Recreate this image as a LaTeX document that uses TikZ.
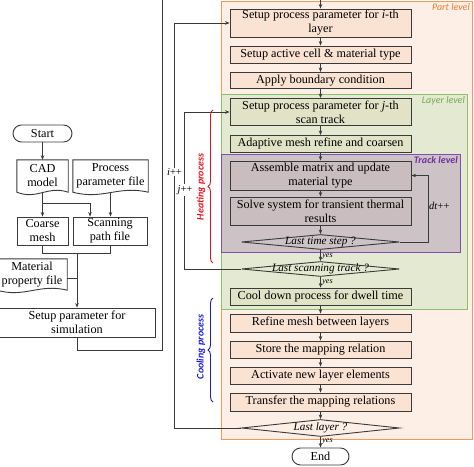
\documentclass[tikz,border=0pt]{standalone}
\usepackage{fontspec}
\setmainfont{Liberation Serif}
\newfontfamily\carlito{Carlito}
\usetikzlibrary{arrows.meta,calc,shapes.geometric,decorations.pathreplacing}
\definecolor{lineC}{HTML}{3A3A3A}
\definecolor{orBorder}{HTML}{F29A5C}
\definecolor{orBg}{HTML}{FDEFE5}
\definecolor{orBox}{HTML}{FBE3D4}
\definecolor{orText}{HTML}{ED7D31}
\definecolor{grBorder}{HTML}{8CC16A}
\definecolor{grBg}{HTML}{E4E9D2}
\definecolor{grBox}{HTML}{E1E3C6}
\definecolor{grText}{HTML}{70AD47}
\definecolor{puBorder}{HTML}{7F4FB0}
\definecolor{puBg}{HTML}{CDC3C7}
\definecolor{puBox}{HTML}{C9BDC0}
\definecolor{puText}{HTML}{7030A0}
\definecolor{heatRed}{HTML}{E8101A}
\definecolor{coolBlue}{HTML}{1A1AD0}
\newcommand\mydocshape[1]{%
  \draw[lineC, line width=0.9pt, fill=white]
    (#1.south east) -- (#1.north east) -- (#1.north west) -- (#1.south west)
    .. controls ($(#1.south west)!0.4!(#1.south east)+(0,8)$)
    and ($(#1.south east)!0.4!(#1.south west)+(0,-7)$) .. (#1.south east) -- cycle;}
\begin{document}
\begin{tikzpicture}[x=1pt,y=-1pt,
  txt/.style={font=\fontsize{12.2}{14}\selectfont, align=center, inner sep=0.5pt},
  bx/.style={txt, draw=lineC, line width=0.9pt, minimum width=181pt},
  pbox/.style={bx, fill=orBox},
  lbox/.style={bx, fill=grBox},
  tbox/.style={bx, fill=puBox},
  wbox/.style={txt, draw=lineC, line width=0.9pt, fill=white},
  docnode/.style={txt, draw=none},
  term/.style={txt, draw=lineC, line width=0.9pt, fill=white, minimum width=57pt, minimum height=17pt, rounded corners=8.5pt},
  dia/.style={diamond, draw=lineC, line width=0.9pt, inner sep=0pt, minimum width=158pt},
  dtext/.style={font=\itshape\fontsize{11.2}{12}\selectfont, inner sep=0pt},
  arr/.style={draw=lineC, line width=0.8pt, -{Stealth[length=4.5pt,width=3.5pt]}},
  ln/.style={draw=lineC, line width=0.8pt},
  yeslab/.style={font=\itshape\fontsize{8}{9}\selectfont, inner sep=0.5pt, anchor=west},
  looplab/.style={font=\fontsize{10.5}{11}\selectfont, inner sep=1pt},
  levlab/.style={font=\carlito\itshape\fontsize{10}{11}\selectfont, inner sep=0pt, anchor=north east},
  proclab/.style={font=\carlito\bfseries\itshape\fontsize{10}{11}\selectfont, inner sep=0pt, rotate=90}
]
\useasboundingbox (0,0) rectangle (474,466);
% level regions
\draw[orBorder, fill=orBg, line width=1pt] (221,1) rectangle (472,439);
\draw[grBorder, fill=grBg, line width=1pt] (221,94) rectangle (467,309);
\draw[puBorder, fill=puBg, line width=1pt] (221,154) rectangle (460,252);
\node[levlab, text=orText] (lpart) at (470,3) {Part level};
\node[levlab, text=grText] (llayer) at (465,96) {Layer level};
\node[levlab, text=puText, font=\carlito\bfseries\itshape\fontsize{10}{11}\selectfont] (ltrack) at (458,156) {Track level};

% right column
\node[pbox, minimum height=28pt] (b1) at (320.5,23) {Setup process parameter for \textit{i}-th\\layer};
\node[pbox, minimum height=17pt] (b2) at (320.5,54.5) {Setup active cell \& material type};
\node[pbox, minimum height=16pt] (b3) at (320.5,80.5) {Apply boundary condition};
\node[lbox, minimum height=27pt] (b4) at (320.5,112) {Setup process parameter for \textit{j}-th\\scan track};
\node[lbox, minimum height=17pt] (b5) at (320.5,144) {Adaptive mesh refine and coarsen};
\node[tbox, minimum height=29pt] (b6) at (320.5,175.5) {Assemble matrix and update\\material type};
\node[tbox, minimum height=28pt] (b7) at (320.5,211) {Solve system for transient thermal\\results};
\node[dia, minimum height=15pt, label={[dtext]center:Last time step ?}] (d1) at (320.5,242) {};
\node[dia, minimum height=15pt, label={[dtext]center:Last scanning track ?}] (d2) at (320.5,269) {};
\node[lbox, minimum height=17pt] (b8) at (320.5,296.5) {Cool down process for dwell time};
\node[pbox, minimum height=18pt] (b9) at (320.5,323) {Refine mesh between layers};
\node[pbox, minimum height=17pt] (b10) at (320.5,349.5) {Store the mapping relation};
\node[pbox, minimum height=17pt] (b11) at (320.5,375.5) {Activate new layer elements};
\node[pbox, minimum height=18pt] (b12) at (320.5,402) {Transfer the mapping relations};
\node[dia, minimum height=17pt, label={[dtext]center:Last layer ?}] (d3) at (320.5,428) {};
\node[term] (endn) at (320.5,456.5) {End};

\draw[arr] (b1) -- (b2);
\draw[arr] (b2) -- (b3);
\draw[arr] (b3) -- (b4);
\draw[arr] (b4) -- (b5);
\draw[arr] (b5) -- (b6);
\draw[arr] (b6) -- (b7);
\draw[arr] (b7) -- (d1);
\draw[arr] (d1) -- node[yeslab, pos=0.55, xshift=1pt] (y1) {yes} (d2);
\draw[arr] (d2) -- node[yeslab, pos=0.5, xshift=1pt] (y2) {yes} (b8);
\draw[arr] (b8) -- (b9);
\draw[arr] (b9) -- (b10);
\draw[arr] (b10) -- (b11);
\draw[arr] (b11) -- (b12);
\draw[arr] (b12) -- (d3);
\draw[arr] (d3) -- node[yeslab, pos=0.45, xshift=1pt] (y3) {yes} (endn);

% loops
\draw[arr] (d1.east) -- ++(28,0) |- (b6.east);
\node[looplab, anchor=west] (dtl) at (428,206) {\textit{dt}++};
\draw[arr] (d2.west) -- ++(-56.5,0) |- (b4.west);
\node[looplab, fill=white] (jl) at (185,190) {\textit{j}++};
\draw[arr] (d3.west) -- ++(-67,0) |- (b1.west);
\node[looplab, fill=white] (il) at (174.5,172) {\textit{i}++};

% braces
\draw[heatRed, line width=0.9pt, decorate, decoration={brace, amplitude=5pt}] (213,263) -- (213,110);
\node[proclab, text=heatRed] (heat) at (201,187) {Heating process};
\draw[coolBlue, line width=0.9pt, decorate, decoration={brace, amplitude=5pt}] (213,402) -- (213,298);
\node[proclab, text=coolBlue] (cool) at (201,347) {Cooling process};

% left column
\node[term, minimum width=59pt] (start) at (42.5,133.5) {Start};
\node[docnode, minimum width=51pt, minimum height=32pt] (cad) at (42.5,176) {CAD\\model};
\node[docnode, minimum width=75pt, minimum height=32pt] (proc) at (110.5,176) {Process\\parameter file};
\mydocshape{cad}
\mydocshape{proc}
\node[docnode, minimum width=51pt, minimum height=32pt] (cad2) at (42.5,176) {CAD\\model};
\node[docnode, minimum width=75pt, minimum height=32pt] (proc2) at (110.5,176) {Process\\parameter file};
\node[wbox, minimum width=51pt, minimum height=28pt] (coarse) at (42.5,231) {Coarse\\mesh};
\node[wbox, minimum width=74pt, minimum height=28pt] (scan) at (110,231) {Scanning\\path file};
\node[docnode, minimum width=70pt, minimum height=31pt] (mat) at (32,274.5) {Material\\property file};
\mydocshape{mat}
\node[docnode, minimum width=70pt, minimum height=31pt] (mat2) at (32,274.5) {Material\\property file};
\node[wbox, minimum width=156pt, minimum height=29pt] (setup) at (77,322.5) {Setup parameter for\\simulation};

\draw[arr] (start) -- (cad);
\draw[arr] (cad.south) -- (coarse.north);
\draw[arr] ($(cad.south)+(0,11)$) -| ([xshift=-20pt]scan.north);
\draw[arr] (proc.south) -- (proc.south |- scan.north);
\coordinate (mg) at (77,253);
\draw[ln] (coarse.south) |- (mg);
\draw[ln] (scan.south) |- (mg);
\draw[arr] (mg) -- (setup.north);
\draw[ln] ([yshift=-4pt]mat.east) -- ++(10,0);
\coordinate (ctop) at (162,-6);
\draw[arr] (setup.south) -- ++(0,13) -| (ctop) -| (b1.north);
\end{tikzpicture}
\end{document}
